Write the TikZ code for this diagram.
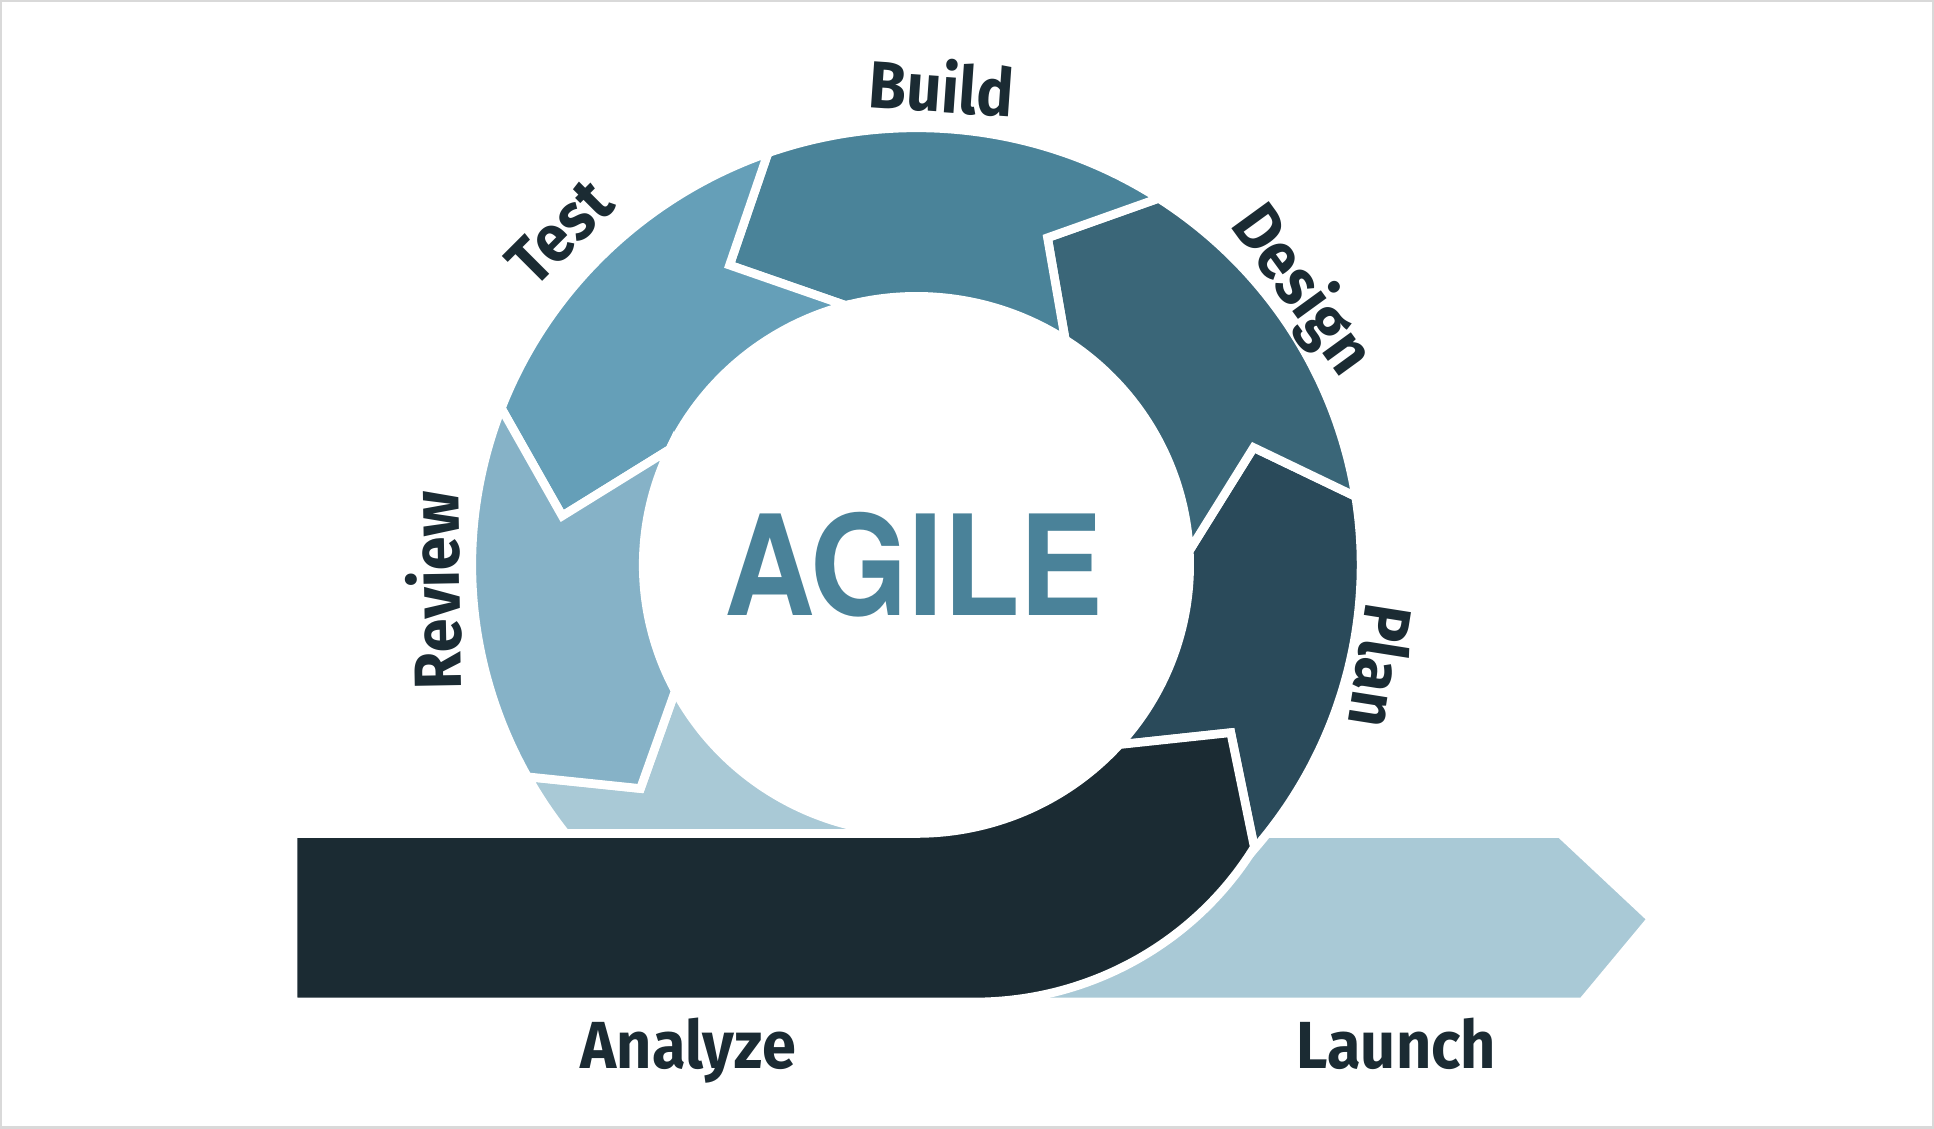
\documentclass[tikz,border=0pt]{standalone}
\usepackage{fontspec}
\setmainfont{Liberation Sans}
\newfontfamily\lblfont{Fira Sans}[FakeStretch=0.92]
\newfontfamily\agilefont{TeX Gyre Heros}[FakeStretch=0.9]

\definecolor{planc}{HTML}{2A4A5A}
\definecolor{designc}{HTML}{3A6678}
\definecolor{buildc}{HTML}{4A8399}
\definecolor{testc}{HTML}{659FB8}
\definecolor{reviewc}{HTML}{86B2C7}
\definecolor{launchc}{HTML}{A9C9D6}
\definecolor{analyzec}{HTML}{1B2B33}
\definecolor{textc}{HTML}{1B2B33}
\definecolor{agilec}{HTML}{4A8299}

\newcommand{\ringout}{360.5}
\newcommand{\ringin}{221.5}
\newcommand{\ringmid}{290}

\begin{document}
\begin{tikzpicture}[x=1pt, y=1pt,
    seg/.style={draw=white, line width=7pt},
    lbl/.style={font=\lblfont\bfseries\fontsize{54}{60}\selectfont, text=textc, inner sep=0pt}]
  \useasboundingbox (0,0) rectangle (1568,915);
  \draw[black!15, line width=2pt] (1,1) rectangle (1567,914);
  \begin{scope}[shift={(743,457)}, yscale=0.983]
    % launch band: ring from review down, out to the right
    \filldraw[seg, fill=launchc]
      (208:\ringin) -- (219.5:\ringmid) -- (209:\ringout)
      arc[start angle=209, end angle=270, radius=\ringout]
      -- (540,-360.5) -- (596,-292) -- (522,-221.5) -- (0,-221.5)
      arc[start angle=270, end angle=208, radius=\ringin] -- cycle;
    % ring segments
    \foreach \col/\ia/\oa/\va/\ib/\ob/\vb in {
        planc/-42/-40.5/-28.5/3/9/19.5,
        designc/3/9/19.5/57/57/68.5,
        buildc/57/57/68.5/105/109.5/121.5,
        testc/105/109.5/121.5/154.5/159/172,
        reviewc/154.5/159/172/208/209/219.5}
    {
      \filldraw[seg, fill=\col]
        (\ia:\ringin) -- (\va:\ringmid) -- (\oa:\ringout)
        arc[start angle=\oa, end angle=\ob, radius=\ringout]
        -- (\vb:\ringmid) -- (\ib:\ringin)
        arc[start angle=\ib, end angle=\ia, radius=\ringin] -- cycle;
    }
    % analyze band: in from the left, up into the ring
    \filldraw[seg, fill=analyzec]
      (-505.5,-360.5) -- (47,-360.5)
      arc[start angle=-90, end angle=-31.3, radius=265.6]
      -- (-28.5:\ringmid) -- (-42:\ringin)
      arc[start angle=318, end angle=270, radius=\ringin]
      -- (-505.5,-221.5) -- cycle;
  \end{scope}
  \begin{scope}[shift={(743,457)}]
    \node[font=\agilefont\bfseries\fontsize{113}{120}\selectfont, text=agilec, anchor=base, inner sep=0pt]
      (agile) at (-2,-41) {AGILE};
    \path
      (87:389) node[lbl, rotate=-4] (build) {Build}
      (137:395) node[lbl, rotate=45] (test) {Test}
      (183:392) node[lbl, rotate=91] (review) {Review}
      (35.5:383) node[lbl, rotate=-54] (design) {Design}
      (-12.3:386) node[lbl, rotate=-99] (plan) {Plan};
    \node[lbl, anchor=base] (analyze) at (-185,-408) {Analyze};
    \node[lbl, anchor=base] (launch) at (389,-408) {Launch};
  \end{scope}
\end{tikzpicture}
\end{document}
